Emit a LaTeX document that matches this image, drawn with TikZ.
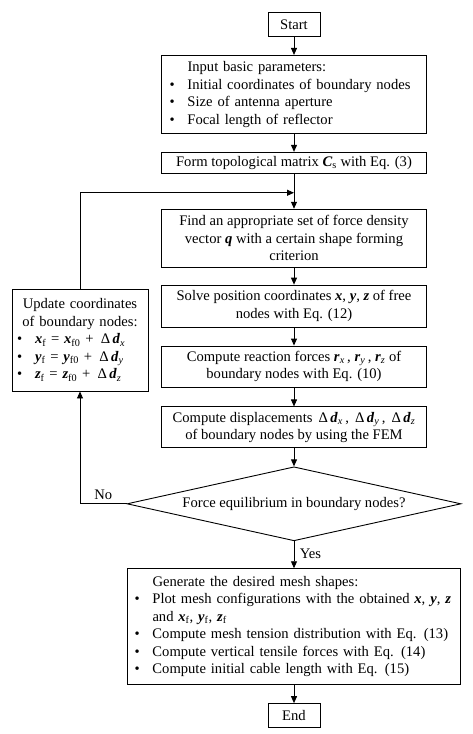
\documentclass[tikz,border=0pt]{standalone}
\usepackage{fontspec}
\setmainfont{Liberation Serif}
\usetikzlibrary{arrows.meta,shapes.geometric,positioning}
\newcommand{\bv}[1]{\textbf{\textit{#1}}}
\newcommand{\itm}{\makebox[18pt][l]{\textbullet}}

\begin{document}
\begin{tikzpicture}[x=1pt,y=-1pt,>={Triangle[length=7pt,width=6pt]},line width=0.9pt,
    every node/.style={font=\fontsize{14.6}{17.5}\selectfont},
    term/.style={draw,minimum width=52pt,minimum height=24pt,inner sep=2pt},
    box/.style={draw,minimum width=265pt,inner xsep=4pt,inner ysep=2pt,align=center},
    decision/.style={draw,diamond,aspect=4.5,minimum width=334pt,minimum height=74pt,inner sep=0pt}]
    \useasboundingbox (0,0) rectangle (473,734);

    \node[term]  (1) at (294,24.5) {Start};
    \node[box,text width=249pt,inner xsep=8pt,align=left,minimum height=78pt]
                 (2) [below=18pt of 1]
                 {\hspace*{18pt}Input basic parameters:\\
                  \itm Initial coordinates of boundary nodes\\
                  \itm Size of antenna aperture\\
                  \itm Focal length of reflector};
    \node[box,minimum height=21pt] (3) [below=18pt of 2]
                 {Form topological matrix \bv{C}\textsubscript{s} with Eq. (3)};
    \node[box,minimum height=58pt] (4) [below=35pt of 3]
                 {Find an appropriate set of force density\\
                  vector \bv{q} with a certain shape forming\\ criterion};
    \node[box,minimum height=42pt] (5) [below=17pt of 4]
                 {Solve position coordinates \bv{x}, \bv{y}, \bv{z} of free\\ nodes with Eq. (12)};
    \node[box,minimum height=41pt] (6) [below=18pt of 5]
                 {Compute reaction forces \bv{r}\textsubscript{\textit{x}}\,, \bv{r}\textsubscript{\textit{y}}\,,
                  \bv{r}\textsubscript{\textit{z}} of\\ boundary nodes with Eq. (10)};
    \node[box,minimum height=41pt] (7) [below=19pt of 6]
                 {Compute displacements \,Δ\,\bv{d}\textsubscript{\textit{x}}\,, \,Δ\,\bv{d}\textsubscript{\textit{y}}\,,
                  \,Δ\,\bv{d}\textsubscript{\textit{z}}\\ of boundary nodes by using the FEM};
    \node[decision] (8) [below=18pt of 7] {Force equilibrium in boundary nodes?};
    \node[box,text width=319pt,inner xsep=7pt,minimum width=333pt,align=left,minimum height=116pt]
                 (9) [below=27pt of 8]
                 {\hspace*{18pt}Generate the desired mesh shapes:\\
                  \itm\mbox{Plot mesh configurations with the obtained \bv{x}, \bv{y}, \bv{z}}\\
                  \hspace*{18pt}and \bv{x}\textsubscript{f}, \bv{y}\textsubscript{f}, \bv{z}\textsubscript{f}\\
                  \itm\mbox{Compute mesh tension distribution with Eq. (13)}\\
                  \itm Compute vertical tensile forces with Eq. (14)\\
                  \itm Compute initial cable length with Eq. (15)};
    \node[term]  (10) [below=18pt of 9] {End};
    \node[box,text width=126pt,inner xsep=5pt,minimum width=136pt,minimum height=102pt]
                 (11) at (80,340)
                 {Update coordinates\\ of boundary nodes:\\
                  \makebox[126pt][l]{\itm\bv{x}\textsubscript{f} = \bv{x}\textsubscript{f0} + \,Δ\,\bv{d}\textsubscript{\textit{x}}}\\
                  \makebox[126pt][l]{\itm\bv{y}\textsubscript{f} = \bv{y}\textsubscript{f0} + \,Δ\,\bv{d}\textsubscript{\textit{y}}}\\
                  \makebox[126pt][l]{\itm\bv{z}\textsubscript{f} = \bv{z}\textsubscript{f0} + \,Δ\,\bv{d}\textsubscript{\textit{z}}}};
    \coordinate[below=19pt of 3] (m);

    \draw[->] (1) edge (2)
              (2) edge (3)
              (3) edge (4)
              (4) edge (5)
              (5) edge (6)
              (6) edge (7)
              (7) edge (8)
              (8) edge node[right,xshift=2pt,yshift=1pt] {Yes} (9)
              (9) edge (10);
    \draw[->] (8.west) -| node[pos=0.25,above] {No} (11.south);
    \draw[->] (11.north) |- (m);
\end{tikzpicture}
\end{document}
